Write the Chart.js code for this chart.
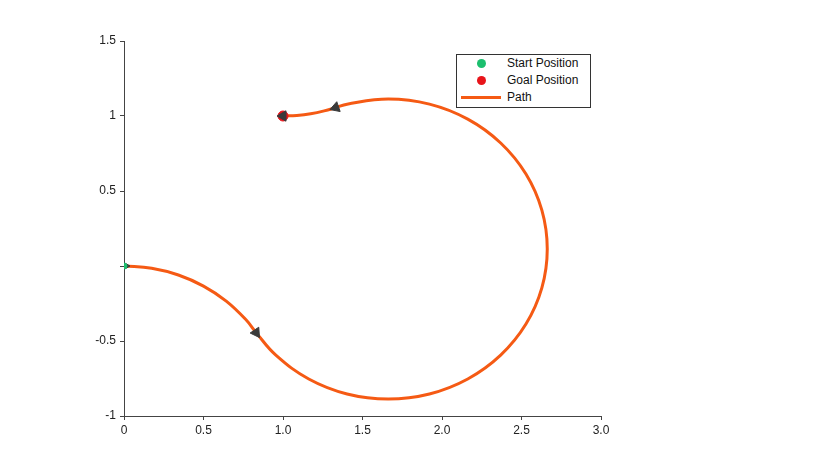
<!DOCTYPE html>
<html><head><meta charset="utf-8">
<script src="https://cdn.jsdelivr.net/npm/chart.js@4/dist/chart.umd.min.js"></script>
<style>
body{margin:0;background:#fff;font-family:"Liberation Sans",Arial,sans-serif;}
#wrap{position:relative;width:818px;height:470px;}
#leg{position:absolute;left:456px;top:54px;width:133px;height:52px;border:1px solid #333;background:#fff;font-size:12px;color:#111;}
.it{position:absolute;left:0;height:17px;line-height:17px;width:100%;}
.it span{position:absolute;left:50px;}
</style></head><body>
<div id="wrap"><canvas id="c" width="818" height="470"></canvas>
<div id="leg">
<div class="it" style="top:0"><i style="position:absolute;left:20px;top:4px;width:9px;height:9px;border-radius:50%;background:#1cbf6e"></i><span>Start Position</span></div>
<div class="it" style="top:17px"><i style="position:absolute;left:20px;top:4px;width:9px;height:9px;border-radius:50%;background:#e8141a"></i><span>Goal Position</span></div>
<div class="it" style="top:34px"><i style="position:absolute;left:4px;top:7px;width:40px;height:3px;background:#f55a14"></i><span>Path</span></div>
</div></div>
<script>
const pathX=[0,0.174,0.342,0.5,0.643,0.766,0.831,0.955,1.162,1.403,1.662,1.921,2.162,2.369,2.528,2.628,2.662,2.628,2.528,2.369,2.162,1.921,1.662,1.403,1.331,1.259,1.174,1.087,1];
const pathY=[0,-0.015,-0.060,-0.134,-0.234,-0.357,-0.444,-0.594,-0.753,-0.853,-0.887,-0.853,-0.753,-0.594,-0.387,-0.146,0.113,0.372,0.613,0.820,0.979,1.079,1.113,1.079,1.056,1.034,1.015,1.004,1];
const startPos=[0,0], goalPos=[1,1];
const arrowX=[0,0.831,1.331,1];
const arrowY=[0,-0.444,1.056,1];
const arrowRot=[90,146,251,270];
const xTicks=[0,0.5,1,1.5,2,2.5,3];
const yTicks=[-1,-0.5,0,0.5,1,1.5];
const xy=(xs,ys)=>xs.map((x,i)=>({x,y:ys[i]}));
new Chart(document.getElementById('c'),{
 type:'scatter',
 data:{datasets:[
  {data:xy(pathX,pathY),showLine:true,borderColor:'#f55a14',borderWidth:3,pointRadius:0,tension:0.4,order:3},
  {data:xy(arrowX,arrowY),pointStyle:'triangle',rotation:arrowRot,pointRadius:6,backgroundColor:'#3a3a3a',borderColor:'#3a3a3a',order:1},
  {data:[{x:startPos[0],y:startPos[1]}],pointRadius:3,backgroundColor:'#1cbf6e',borderColor:'#1cbf6e',order:0},
  {data:[{x:goalPos[0],y:goalPos[1]}],pointRadius:5,backgroundColor:'#e8141a',borderColor:'#e8141a',order:2}
 ]},
 options:{responsive:false,animation:false,
  layout:{padding:{left:0,right:217,top:41,bottom:0}},
  plugins:{legend:{display:false},tooltip:{enabled:false}},
  scales:{
   x:{type:'linear',min:0,max:3,afterBuildTicks:a=>{a.ticks=xTicks.map(v=>({value:v}));},
      afterFit:a=>{a.height=54;},
      grid:{drawOnChartArea:false,tickLength:4,color:'#444'},border:{color:'#444'},
      ticks:{color:'#222',font:{size:12,family:'Liberation Sans'},maxRotation:0,padding:3}},
   y:{type:'linear',min:-1,max:1.5,afterBuildTicks:a=>{a.ticks=yTicks.map(v=>({value:v}));},
      afterFit:a=>{a.width=124;},
      grid:{drawOnChartArea:false,tickLength:4,color:'#444'},border:{color:'#444'},
      ticks:{color:'#222',font:{size:12,family:'Liberation Sans'},padding:4,callback:v=>v===0?'':String(v)}}
  }}
});
</script></body></html>
